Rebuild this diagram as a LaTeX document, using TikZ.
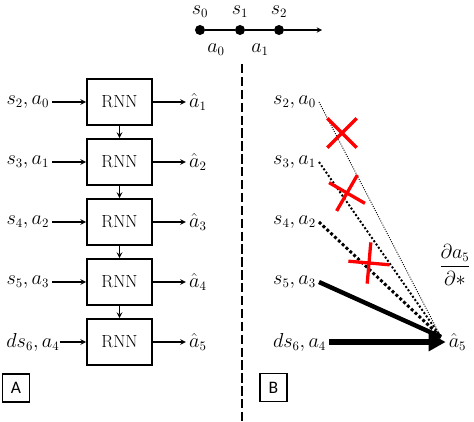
\documentclass[tikz,border=0pt]{standalone}
\usepackage{fontspec}
\usepackage{amsmath}
\newfontfamily\panelfont{Carlito}
\usetikzlibrary{shapes.misc, arrows, arrows.meta}
\tikzstyle{rnn} = [rectangle, minimum width=1.95cm, minimum height=1.38cm, draw=black, line width=1.4pt, font=\fontsize{15}{18}\selectfont]
\tikzstyle{dot} = [circle, fill=black, inner sep=0pt, minimum size=0.3cm]
\tikzstyle{panel} = [rectangle, minimum width=0.8cm, minimum height=0.84cm, draw=black, line width=1.2pt, font=\panelfont\fontsize{15}{18}\selectfont]
\tikzstyle{crossmark} = [cross out, draw=red, line width=2.8pt, inner sep=0pt, minimum size=0.78cm]
\tikzstyle{arrow} = [line width=1.2pt,->,>=stealth]

\begin{document}
\begin{tikzpicture}[x=0.03cm, y=-0.03cm, node distance=1.8cm, inner sep=2.5pt, font=\fontsize{16}{19}\selectfont]
\useasboundingbox (0,0) rectangle (474,422);

% time line on top
\node (t0) [dot] at (200,30) {};
\node (t1) [dot, right of=t0, node distance=1.2cm] {};
\node (t2) [dot, right of=t1, node distance=1.17cm] {};
\coordinate (tend) at (322,30);
\node (s0) [above of=t0, node distance=0.55cm] {$s_0$};
\node (s1) [above of=t1, node distance=0.55cm] {$s_1$};
\node (s2) [above of=t2, node distance=0.55cm] {$s_2$};
\node (a0) at (216,50) {$a_0$};
\node (a1) at (260,50) {$a_1$};
\draw [line width=1pt, ->, >=stealth] (t0) -- (t1) -- (t2) -- (tend);

% divider
\coordinate (dtop) at (242,64);
\coordinate (dbot) at (242,422);
\draw [line width=1.6pt, dash pattern=on 8pt off 3pt] (dtop) -- (dbot);

% panel A
\node (r1) [rnn] at (119.5,102) {RNN};
\node (r2) [rnn, below of=r1] {RNN};
\node (r3) [rnn, below of=r2] {RNN};
\node (r4) [rnn, below of=r3] {RNN};
\node (r5) [rnn, below of=r4] {RNN};

\node (in1) [left of=r1, node distance=2.75cm] {$s_2,a_0$};
\node (in2) [left of=r2, node distance=2.75cm] {$s_3,a_1$};
\node (in3) [left of=r3, node distance=2.75cm] {$s_4,a_2$};
\node (in4) [left of=r4, node distance=2.75cm] {$s_5,a_3$};
\node (in5) [left of=r5, node distance=2.6cm, inner sep=0pt] {$ds_6,a_4$};

\node (o1) [right of=r1, node distance=2.35cm] {$\hat{a}_1$};
\node (o2) [right of=r2, node distance=2.35cm] {$\hat{a}_2$};
\node (o3) [right of=r3, node distance=2.35cm] {$\hat{a}_3$};
\node (o4) [right of=r4, node distance=2.35cm] {$\hat{a}_4$};
\node (o5) [right of=r5, node distance=2.35cm] {$\hat{a}_5$};

\draw [arrow] (in1) -- (r1);
\draw [arrow] (in2) -- (r2);
\draw [arrow] (in3) -- (r3);
\draw [arrow] (in4) -- (r4);
\draw [arrow] (in5) -- (r5);
\draw [arrow] (r1) -- (o1);
\draw [arrow] (r2) -- (o2);
\draw [arrow] (r3) -- (o3);
\draw [arrow] (r4) -- (o4);
\draw [arrow] (r5) -- (o5);
\draw [arrow] (r1) -- (r2);
\draw [arrow] (r2) -- (r3);
\draw [arrow] (r3) -- (r4);
\draw [arrow] (r4) -- (r5);

\node (pa) [panel] at (16,388) {A};

% panel B
\node (q1) [right of=in1, node distance=8cm] {$s_2,a_0$};
\node (q2) [right of=in2, node distance=8cm] {$s_3,a_1$};
\node (q3) [right of=in3, node distance=8cm] {$s_4,a_2$};
\node (q4) [right of=in4, node distance=8cm] {$s_5,a_3$};
\node (q5) [right of=in5, node distance=8cm] {$ds_6,a_4$};
\node (h5) [right of=q5, node distance=4.74cm] {$\hat{a}_5$};
\node (dd) at (455,265) {$\dfrac{\partial a_5}{\partial *}$};
\coordinate (c) at (441,337);

\draw [line width=0.8pt, dash pattern=on 0.8pt off 1.2pt] (q1.east) -- (c);
\draw [line width=1.7pt, dash pattern=on 1.7pt off 1.7pt] (q2.east) -- (c);
\draw [line width=2.5pt, dash pattern=on 2.5pt off 2pt] (q3.east) -- (c);
\draw [line width=3.8pt] (q4.east) -- (c);
\draw [line width=5pt, -{Triangle[length=14.5pt,width=15pt]}] (q5) -- (h5);

\node (x1) [crossmark] at (342,133) {};
\node (x2) [crossmark, rotate=15] at (347,193) {};
\node (x3) [crossmark, rotate=40] at (369,263) {};

\node (pb) [panel] at (273.5,387.5) {B};
\end{tikzpicture}
\end{document}
